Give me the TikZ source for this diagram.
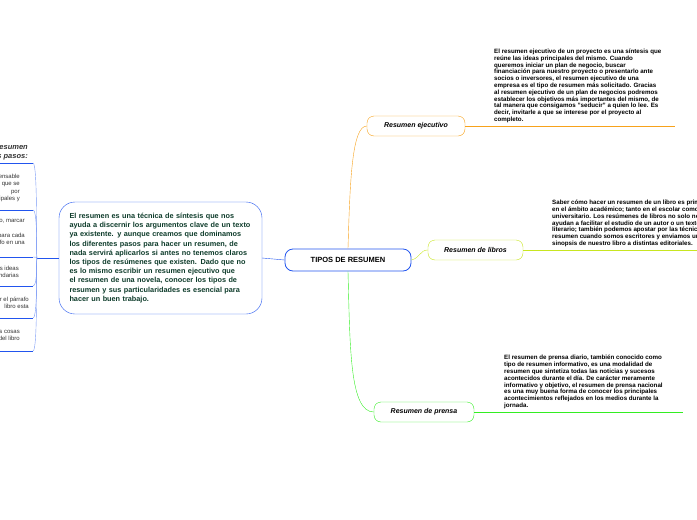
\documentclass[tikz,border=0pt]{standalone}
\usepackage{fontspec}
\setmainfont{Liberation Sans}
\begin{document}
\begin{tikzpicture}[x=1pt,y=-1pt,
 topic/.style={draw,rounded corners=7pt,fill=white,font=\bfseries\itshape\fontsize{7}{8}\selectfont,minimum height=20pt},
 para/.style={anchor=south west,align=left,inner sep=0pt,font=\bfseries\fontsize{6.2}{6.8}\selectfont},
 lt/.style={anchor=east,align=right,inner sep=0pt,font=\fontsize{6}{7.5}\selectfont,text=black!80}]
\useasboundingbox (0,0) rectangle (697,520);
\clip (0,0) rectangle (697,520);
\definecolor{org}{HTML}{F7A21B}\definecolor{ylg}{HTML}{C8E620}\definecolor{grn}{HTML}{33EE22}\definecolor{blu}{HTML}{2255EE}\definecolor{dg}{HTML}{0D3B2A}
\node[draw=blu,rounded corners=8pt,thick,minimum width=126pt,minimum height=22pt,font=\bfseries\fontsize{7.5}{9}\selectfont] (main) at (348,260) {TIPOS DE RESUMEN};
\node[draw=blu,rounded corners=16pt,minimum width=203pt,minimum height=112pt,text width=182pt,align=left,text=dg,font=\bfseries\fontsize{7.3}{9.2}\selectfont] (cen) at (160.5,258) {El resumen es una técnica de síntesis que nos ayuda a discernir los argumentos clave de un texto ya existente. y aunque creamos que dominamos los diferentes pasos para hacer un resumen, de nada servirá aplicarlos si antes no tenemos claros los tipos de resúmenes que existen. Dado que no es lo mismo escribir un resumen ejecutivo que el resumen de una novela, conocer los tipos de resumen y sus particularidades es esencial para hacer un buen trabajo.};
\draw[blu] (main.west) -- (cen.east);
\coordinate (br) at (37,258);
\draw[blu] (cen.west) -- (br);
\foreach \y in {163,210,257,286,318,351}{
 \draw[blu!60] (br) .. controls (36,258) and (38,\y) .. (33,\y);}
\foreach \y in {163,210,257,286,318,351}{\draw[blu,thick] (0,\y) -- (33,\y);}
\node[lt,font=\bfseries\itshape\fontsize{7.5}{9}\selectfont] (t0) at (28,152.5) {Resumen\\los pasos:};
\node[lt] (t1) at (20,188) {Es indispensable\\que se\\por\\principales y};
\node[lt] (t2) at (25,232) {libro, marcar\\\\hacer para cada\\párrafo en una};
\node[lt] (t3) at (19,272) {las ideas\\secundarias};
\node[lt] (t4) at (29,303) {Leer el párrafo\\libro esta};
\node[lt] (t5) at (20,335) {las cosas\\del libro};
\node[topic,draw=org,minimum width=98pt] (ej) at (416,126) {Resumen ejecutivo};
\node[topic,draw=ylg,minimum width=95pt] (li) at (475.5,250) {Resumen de libros};
\node[topic,draw=grn,minimum width=100pt] (pr) at (424,412) {Resumen de prensa};
\draw[org] (main.north) .. controls (350,180) and (352,126) .. (ej.west);
\draw[ylg] (main.east) .. controls (420,258) and (420,250) .. (li.west);
\draw[grn] (main.south) .. controls (350,350) and (350,412) .. (pr.west);
\coordinate (e1) at (675,126); \coordinate (e2) at (697,250); \coordinate (e3) at (683,412);
\draw[org,thick] (ej.east) -- (e1);
\draw[ylg,thick] (li.east) -- (e2);
\draw[grn,thick] (pr.east) -- (e3);
\node[para] (p1) at (494,123) {El resumen ejecutivo de un proyecto es una síntesis que\\reúne las ideas principales del mismo. Cuando\\queremos iniciar un plan de negocio, buscar\\financiación para nuestro proyecto o presentarlo ante\\socios o inversores, el resumen ejecutivo de una\\empresa es el tipo de resumen más solicitado. Gracias\\al resumen ejecutivo de un plan de negocios podremos\\establecer los objetivos más importantes del mismo, de\\tal manera que consigamos "seducir" a quien lo lee. Es\\decir, invitarle a que se interese por el proyecto al\\completo.};
\node[para] (p2) at (552,247) {Saber cómo hacer un resumen de un libro es primordial\\en el ámbito académico; tanto en el escolar como\\universitario. Los resúmenes de libros no solo nos\\ayudan a facilitar el estudio de un autor o un texto\\literario; también podemos apostar por las técnicas de\\resumen cuando somos escritores y enviamos una\\sinopsis de nuestro libro a distintas editoriales.};
\node[para] (p3) at (504,409) {El resumen de prensa diario, también conocido como\\tipo de resumen informativo, es una modalidad de\\resumen que sintetiza todas las noticias y sucesos\\acontecidos durante el día. De carácter meramente\\informativo y objetivo, el resumen de prensa nacional\\es una muy buena forma de conocer los principales\\acontecimientos reflejados en los medios durante la\\jornada.};
\end{tikzpicture}
\end{document}
